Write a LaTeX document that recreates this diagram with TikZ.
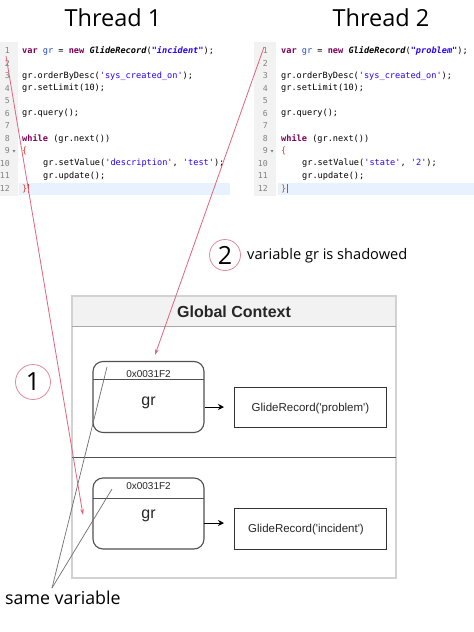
\documentclass[tikz,border=0pt]{standalone}
\usepackage{fontspec}
\setmainfont{Open Sans}
\setmonofont{DejaVu Sans Mono}
\newfontfamily\arialf{Liberation Sans}
\usetikzlibrary{arrows.meta,calc}
\definecolor{kwc}{RGB}{127,0,85}
\definecolor{strc}{RGB}{42,0,255}
\definecolor{varc}{RGB}{40,70,200}
\definecolor{lncol}{RGB}{130,130,130}
\definecolor{gutc}{RGB}{242,242,242}
\definecolor{hlc}{RGB}{232,242,254}
\definecolor{redl}{RGB}{226,100,125}
\definecolor{circc}{RGB}{225,140,155}
\definecolor{gcb}{RGB}{210,210,210}
\definecolor{gch}{RGB}{242,242,242}
\definecolor{boxc}{RGB}{80,80,80}
\definecolor{sameg}{RGB}{110,110,110}
\definecolor{brc}{RGB}{220,60,40}
\newcommand{\kwd}[1]{\textcolor{kwc}{\bfseries #1}}
\newcommand{\strq}[1]{\textcolor{strc}{#1}}
\newcommand{\bistr}[1]{\textcolor{strc}{\bfseries\itshape #1}}
\newcommand{\glr}{\textbf{\textit{GlideRecord}}}
\begin{document}
\begin{tikzpicture}[x=1pt,y=-1pt,
  code/.style={anchor=west,inner sep=0pt,font=\ttfamily\fontsize{8.6}{10}\selectfont},
  lnum/.style={anchor=east,inner sep=0pt,text=lncol,font=\ttfamily\fontsize{8.2}{10}\selectfont},
  title/.style={anchor=base,inner sep=0pt,font=\fontsize{23.5}{26}\selectfont},
  redarrow/.style={draw=redl,line width=0.8pt,-{Stealth[length=6pt,width=3.5pt]}},
  samel/.style={draw=sameg,line width=0.7pt},
  grbox/.style={draw=boxc,line width=1.1pt,rounded corners=10pt,minimum width=111pt,minimum height=71pt,inner sep=0pt},
  recbox/.style={draw=black!80,line width=1pt,minimum width=152pt,minimum height=40pt,inner sep=0pt},
  addr/.style={anchor=base,inner sep=0pt,font=\arialf\fontsize{10}{12}\selectfont,text=black!85},
  grtxt/.style={anchor=base,inner sep=0pt,font=\arialf\fontsize{16}{18}\selectfont,text=black!85},
  rectxt/.style={anchor=base,inner sep=0pt,font=\arialf\fontsize{11.5}{13}\selectfont,text=black!85},
  ptr/.style={draw=black,line width=0.9pt,-{Stealth[length=6pt,width=6pt]}},
  numcirc/.style={draw=circc,line width=0.8pt,circle,inner sep=0pt},
  numtxt/.style={inner sep=0pt,font=\fontsize{25}{26}\selectfont}
]
\useasboundingbox (0,0) rectangle (474,632);
\fill[white] (0,0) rectangle (474,632);

% titles
\node[title] (th1) at (113,26) {Thread 1};
\node[title] (th2) at (381,26) {Thread 2};

% code panel backgrounds
\fill[gutc] (0,42) rectangle (18,196);
\fill[gutc] (254,42) rectangle (276,196);
\fill[hlc] (19,182.5) rectangle (230,194.5);
\fill[hlc] (278,182.5) rectangle (474,194.5);

% line numbers
\foreach \i in {1,...,12}{
  \node[lnum] (la\i) at (10,{51+(\i-1)*12.5}) {\i};
  \node[lnum] (lb\i) at (268,{51+(\i-1)*12.5}) {\i};
}
\fill[lncol] (12.5,150) -- (15.5,150) -- (14,152.5) -- cycle;
\fill[lncol] (270.5,150) -- (273.5,150) -- (272,152.5) -- cycle;

% code thread 1
\node[code] (a1) at (22,51) {\kwd{var} \textcolor{varc}{gr} = \kwd{new} \glr(\bistr{"incident"});};
\node[code] (a3) at (22,76) {gr.orderByDesc(\strq{'sys\_created\_on'});};
\node[code] (a4) at (22,88.5) {gr.setLimit(10);};
\node[code] (a6) at (22,113.5) {gr.query();};
\node[code] (a8) at (22,138.5) {\kwd{while} (gr.next())};
\node[code,text=brc] (a9) at (22,151) {\{};
\node[code] (a10) at (43,163.5) {gr.setValue(\strq{'description'}, \strq{'test'});};
\node[code] (a11) at (43,176) {gr.update();};
\node[code,text=brc] (a12) at (22,188.5) {\}};
\draw[brc,line width=0.6pt] ([xshift=1pt]a12.north east) -- ([xshift=1pt]a12.south east);

% code thread 2
\node[code] (b1) at (281,51) {\kwd{var} \textcolor{varc}{gr} = \kwd{new} \glr(\bistr{"problem"});};
\node[code] (b3) at (281,76) {gr.orderByDesc(\strq{'sys\_created\_on'});};
\node[code] (b4) at (281,88.5) {gr.setLimit(10);};
\node[code] (b6) at (281,113.5) {gr.query();};
\node[code] (b8) at (281,138.5) {\kwd{while} (gr.next())};
\node[code,text=brc] (b9) at (281,151) {\{};
\node[code] (b10) at (302,163.5) {gr.setValue(\strq{'state'}, \strq{'2'});};
\node[code] (b11) at (302,176) {gr.update();};
\node[code,text=brc] (b12) at (281,188.5) {\}};
\draw[brc,line width=0.6pt] ([xshift=1pt]b12.north east) -- ([xshift=1pt]b12.south east);

% label 2
\node[numcirc,minimum size=31pt] (c2) at (225,255) {};
\node[numtxt] (n2) at (c2) {2};
\node[anchor=base west,inner sep=0pt,font=\fontsize{14.6}{16}\selectfont] (shadow) at (247,259) {variable gr is shadowed};

% global context
\fill[gch] (72,296) rectangle (396,326);
\draw[gcb,line width=1.6pt] (72,296) rectangle (396,578);
\draw[gcb!80!black,line width=0.8pt] (72,326) -- (396,326);
\node[anchor=base,inner sep=0pt,font=\arialf\bfseries\fontsize{16}{18}\selectfont,text=black!85] (gc) at (234,317) {Global Context};
\draw[boxc,line width=1pt] (72,457.5) -- (396,457.5);

% top variable
\node[grbox] (grA) at (148.5,397) {};
\draw[boxc,line width=1pt] (93,379) -- (204,379);
\node[addr] (adA) at (148.5,377) {0x0031F2};
\node[grtxt] (gA) at (148.5,405) {gr};
\node[recbox] (recA) at (310.5,407) {};
\node[rectxt] (rA) at (310.5,411) {GlideRecord('problem')};
\draw[ptr] (grA.east |- recA.west) -- ([xshift=-10pt]recA.west);

% bottom variable
\node[grbox] (grB) at (148.5,513.5) {};
\draw[boxc,line width=1pt] (93,498) -- (204,498);
\node[addr] (adB) at (148.5,489) {0x0031F2};
\node[grtxt] (gB) at (148.5,518) {gr};
\node[recbox,minimum height=41pt] (recB) at (310,528.5) {};
\node[rectxt] (rB) at (306,532) {GlideRecord('incident')};
\coordinate (pB) at (204,523);
\coordinate (pBe) at (224,523);
\draw[ptr] (pB) -- (pBe);

% label 1
\node[numcirc,minimum size=35pt] (c1) at (33,382) {};
\node[numtxt] (n1) at (c1) {1};

% red arrows
\coordinate (s1) at (6,56);
\coordinate (e1) at (83,515);
\draw[redarrow] (s1) -- (e1);
\coordinate (s2) at (264,47);
\coordinate (e2) at (155,355);
\draw[redarrow] (s2) -- (e2);

% same variable
\coordinate (apex) at (52,588);
\coordinate (pa) at (107,367);
\coordinate (pb) at (112,489);
\draw[samel] (apex) -- (pa);
\draw[samel] (apex) -- (pb);
\node[anchor=base west,inner sep=0pt,font=\fontsize{17.8}{20}\selectfont] (same) at (5,604) {same variable};
\end{tikzpicture}
\end{document}
